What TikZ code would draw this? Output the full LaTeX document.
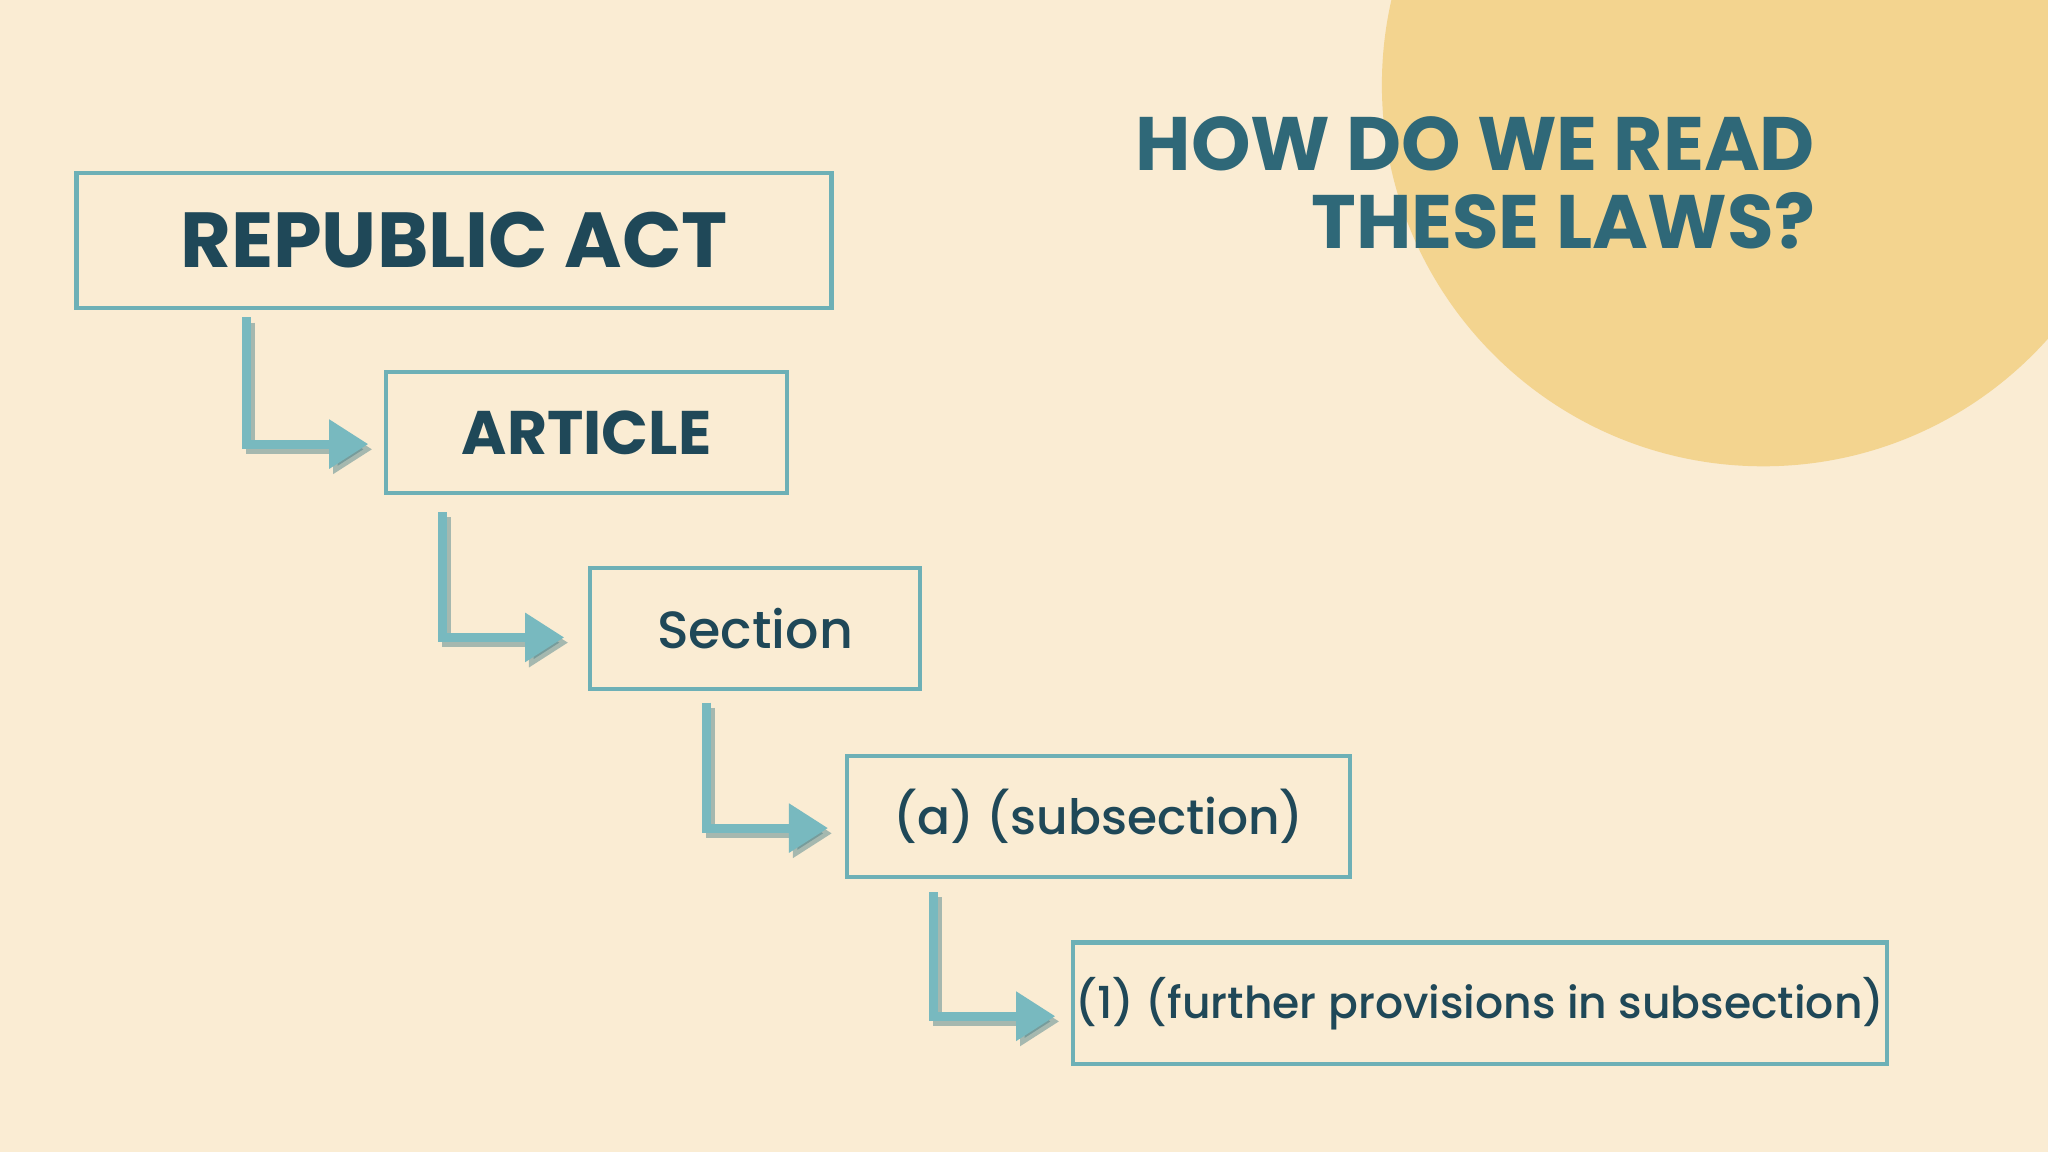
\documentclass[tikz,border=0pt]{standalone}
\usepackage{fontspec}
\setmainfont{Poppins}[BoldFont=* Bold]
\newfontfamily\medf{Poppins}[UprightFont=* Medium]
\usetikzlibrary{arrows.meta}
\definecolor{bg}{HTML}{FAECD3}
\definecolor{sun}{HTML}{F3D48F}
\definecolor{ttl}{HTML}{2F6878}
\definecolor{dk}{HTML}{1F4858}
\definecolor{edge}{HTML}{6DB0B6}
\definecolor{arr}{HTML}{78B9BF}
\definecolor{shd}{HTML}{3F7A84}
\tikzset{
  box/.style={draw=edge,line width=0.9pt,minimum height=0.93cm,inner sep=0pt,text=dk},
  lar/.style={line width=2pt,color=arr,-{Triangle[length=0.3cm,width=0.36cm]}},
  lsh/.style={line width=2pt,color=shd,opacity=0.45,-{Triangle[length=0.3cm,width=0.36cm]}}
}
\begin{document}
\begin{tikzpicture}[y=-1cm]
\fill[bg] (0,0) rectangle (15.68,8.82);
\useasboundingbox (0,0) rectangle (15.68,8.82);
\begin{scope}
\clip (0,0) rectangle (15.68,8.82);
\fill[sun] (13.5,0.65) circle (2.92);
\end{scope}
\node[text=ttl,align=right,anchor=east,font=\bfseries\fontsize{16.5}{17}\selectfont] (title) at (14.02,1.4) {HOW DO WE READ\\THESE LAWS?};
\node[box,minimum width=5.78cm,minimum height=1.03cm,anchor=north west,font=\bfseries\fontsize{17}{20}\selectfont] (ra) at (0.57,1.31) {REPUBLIC ACT};
\node[box,minimum width=3.07cm,anchor=north west,font=\bfseries\fontsize{13.4}{16}\selectfont] (art) at (2.94,2.83) {ARTICLE};
\node[box,minimum width=2.53cm,anchor=north west,font=\medf\fontsize{11.4}{14}\selectfont] (sec) at (4.50,4.33) {Section};
\node[box,minimum width=3.85cm,anchor=north west,font=\medf\fontsize{10.6}{13}\selectfont] (sub) at (6.47,5.77) {(a) (subsection)};
\node[box,minimum width=6.23cm,anchor=north west,font=\medf\fontsize{9.6}{12}\selectfont] (fur) at (8.20,7.20) {(1) (further provisions in subsection)};
\coordinate (s1) at (1.89,2.43); \coordinate (e1) at (2.82,3.40);
\coordinate (s2) at (3.39,3.92); \coordinate (e2) at (4.32,4.88);
\coordinate (s3) at (5.41,5.38); \coordinate (e3) at (6.34,6.34);
\coordinate (s4) at (7.15,6.83); \coordinate (e4) at (8.08,7.78);
\foreach \i in {1,2,3,4}{
  \draw[lsh] ([shift={(0.03,0.04)}]s\i) |- ([shift={(0.03,0.04)}]e\i);
  \draw[lar] (s\i) |- (e\i);
}
\end{tikzpicture}
\end{document}
